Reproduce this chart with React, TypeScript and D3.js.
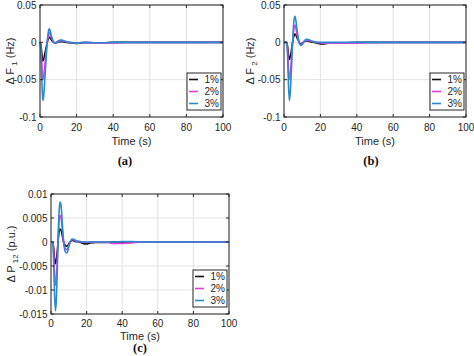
import React from "react";
import * as d3 from "d3";

// ---------- data ----------
const seriesNames = ["1%", "2%", "3%"];
const seriesColors = ["#111111", "#e838e8", "#2a8ad0"];

const timeA = [0, 0.5, 1, 1.5, 2, 2.5, 3, 3.5, 4, 4.5, 5, 5.5, 6, 7, 8, 9, 10, 11, 12, 13, 14, 16, 18, 20, 22, 25, 30, 35, 40, 45, 50, 55, 60, 100];
const dF1_1 = [0, -0.003, -0.015, -0.025, -0.023, -0.017, -0.011, -0.005, 0, 0.004, 0.007, 0.006, 0.004, 0.001, -0.001, -0.0005, 0.0005, 0.001, 0.001, 0.0005, 0, -0.0005, -0.001, -0.0015, -0.001, -0.0005, -0.0005, -0.0005, 0, 0, 0, 0, 0, 0];
const dF1_2 = [0, -0.006, -0.03, -0.05, -0.046, -0.035, -0.022, -0.009, 0.001, 0.008, 0.013, 0.012, 0.008, 0.002, -0.001, 0, 0.0015, 0.002, 0.002, 0.0015, 0.001, 0, -0.0005, -0.001, -0.0005, 0, -0.0008, -0.001, -0.0008, -0.0005, 0, 0, 0, 0];
const dF1_3 = [0, -0.01, -0.05, -0.078, -0.072, -0.055, -0.035, -0.015, 0.002, 0.013, 0.018, 0.016, 0.011, 0.003, -0.001, 0, 0.002, 0.003, 0.003, 0.002, 0.001, 0, -0.0005, -0.001, -0.0005, 0, -0.0005, -0.0005, 0, 0, 0, 0, 0, 0];

const timeB = [0, 1, 1.5, 2, 2.5, 3, 3.5, 4, 4.5, 5, 5.5, 6, 6.5, 7, 8, 9, 10, 11, 12, 13, 14, 16, 18, 20, 22, 25, 30, 35, 40, 45, 50, 55, 60, 100];
const dF2_1 = [0, 0, 0, -0.006, -0.018, -0.023, -0.019, -0.012, -0.003, 0.004, 0.009, 0.011, 0.01, 0.007, 0.002, -0.002, -0.001, 0.001, 0.002, 0.002, 0.001, 0, -0.001, -0.002, -0.002, -0.001, -0.001, -0.0005, 0, 0, 0, 0, 0, 0];
const dF2_2 = [0, 0, 0, -0.012, -0.038, -0.05, -0.042, -0.026, -0.008, 0.008, 0.019, 0.023, 0.019, 0.013, 0.002, -0.003, -0.002, 0.001, 0.003, 0.003, 0.002, 0.001, 0, -0.0005, -0.001, -0.001, -0.001, -0.001, -0.001, -0.0005, -0.0005, 0, 0, 0];
const dF2_3 = [0, 0, 0, -0.02, -0.06, -0.078, -0.065, -0.04, -0.012, 0.012, 0.03, 0.035, 0.03, 0.02, 0.004, -0.004, -0.003, 0.001, 0.004, 0.004, 0.003, 0.001, 0, 0, 0, 0, 0, 0, 0, 0, 0, 0, 0, 0];

const timeC = [0, 1, 1.5, 2, 2.5, 3, 3.5, 4, 4.5, 5, 5.5, 6, 6.5, 7, 8, 9, 10, 11, 12, 13, 14, 16, 18, 20, 22, 25, 30, 35, 40, 45, 50, 55, 60, 100];
const dP12_1 = [0, 0, -0.0012, -0.0035, -0.0045, -0.0038, -0.002, 0.0002, 0.002, 0.0027, 0.0026, 0.002, 0.001, 0.0001, -0.0007, -0.0009, -0.0004, 0.0001, 0.0003, 0.0002, 0.0001, 0, -0.0003, -0.0004, -0.0002, -0.0001, -0.0001, 0, 0, 0, 0, 0, 0, 0];
const dP12_2 = [0, 0, -0.0025, -0.007, -0.009, -0.0075, -0.004, 0.0005, 0.004, 0.0055, 0.0053, 0.004, 0.002, 0.0003, -0.0013, -0.0016, -0.0007, 0.0002, 0.0005, 0.0004, 0.0002, 0.0001, 0, -0.0001, 0, 0, 0, -0.0003, -0.0003, -0.0002, 0, 0, 0, 0];
const dP12_3 = [0, 0, -0.004, -0.011, -0.0143, -0.012, -0.006, 0.001, 0.006, 0.0083, 0.008, 0.006, 0.003, 0.0005, -0.002, -0.0023, -0.001, 0.0002, 0.0006, 0.0005, 0.0003, 0.0001, 0, 0, 0, 0, 0, 0, 0.0001, 0.0001, 0, 0, 0, 0];

const xTicks = [0, 20, 40, 60, 80, 100];
const yTicksF = [-0.1, -0.05, 0, 0.05];
const yTickLabelsF = ["-0.1", "-0.05", "0", "0.05"];
const yTicksP = [-0.015, -0.01, -0.005, 0, 0.005, 0.01];
const yTickLabelsP = ["-0.015", "-0.01", "-0.005", "0", "0.005", "0.01"];

// ---------- layout ----------
type Panel = {
  left: number; right: number; top: number; bottom: number;
  yDomain: [number, number]; yTicks: number[]; yLabels: string[];
  time: number[]; series: number[][];
  labelMain: string; labelSub: string; labelUnit: string; labelX: number;
  tag: string; tagX: number; tagY: number;
  xLabY: number; timeY: number;
};

const panels: Panel[] = [
  { left: 40, right: 223, top: 5, bottom: 117, yDomain: [-0.1, 0.05], yTicks: yTicksF, yLabels: yTickLabelsF,
    time: timeA, series: [dF1_1, dF1_2, dF1_3], labelMain: "Δ F", labelSub: "1", labelUnit: " (Hz)", labelX: 14,
    tag: "(a)", tagX: 125, tagY: 165, xLabY: 131, timeY: 145 },
  { left: 284, right: 466, top: 5, bottom: 117, yDomain: [-0.1, 0.05], yTicks: yTicksF, yLabels: yTickLabelsF,
    time: timeB, series: [dF2_1, dF2_2, dF2_3], labelMain: "Δ F", labelSub: "2", labelUnit: " (Hz)", labelX: 254,
    tag: "(b)", tagX: 371, tagY: 165, xLabY: 131, timeY: 145 },
  { left: 51, right: 229, top: 194, bottom: 314, yDomain: [-0.015, 0.01], yTicks: yTicksP, yLabels: yTickLabelsP,
    time: timeC, series: [dP12_1, dP12_2, dP12_3], labelMain: "Δ P", labelSub: "12", labelUnit: " (p.u.)", labelX: 15,
    tag: "(c)", tagX: 140, tagY: 352, xLabY: 327, timeY: 340 },
];

const font = "'Liberation Sans', Arial, Helvetica, sans-serif";

function PanelView({ p }: { p: Panel }) {
  const x = d3.scaleLinear().domain([0, 100]).range([p.left, p.right]);
  const y = d3.scaleLinear().domain(p.yDomain).range([p.bottom, p.top]);
  const line = d3.line<[number, number]>()
    .x((d) => x(d[0]))
    .y((d) => y(d[1]))
    .curve(d3.curveMonotoneX);
  const tickLen = 3;
  const midY = (p.top + p.bottom) / 2;
  const lgW = 34, lgH = 37;
  const lgX = p.right - 2 - lgW;
  const lgY = p.bottom - 7 - lgH;
  return (
    <g>
      {xTicks.map((t) => (
        <line key={"gx" + t} x1={x(t)} x2={x(t)} y1={p.top} y2={p.bottom} stroke="#e2e2e2" strokeWidth={1} />
      ))}
      {p.yTicks.map((t) => (
        <line key={"gy" + t} x1={p.left} x2={p.right} y1={y(t)} y2={y(t)} stroke="#e2e2e2" strokeWidth={1} />
      ))}
      {p.series.map((s, i) => (
        <path key={"s" + i} d={line(p.time.map((t, k) => [t, s[k]] as [number, number])) || ""}
          fill="none" stroke={seriesColors[i]} strokeWidth={1.6} strokeLinejoin="round" />
      ))}
      <rect x={p.left} y={p.top} width={p.right - p.left} height={p.bottom - p.top} fill="none" stroke="#262626" strokeWidth={1} />
      {xTicks.map((t) => (
        <g key={"tx" + t}>
          <line x1={x(t)} x2={x(t)} y1={p.bottom} y2={p.bottom - tickLen} stroke="#262626" />
          <line x1={x(t)} x2={x(t)} y1={p.top} y2={p.top + tickLen} stroke="#262626" />
          <text x={x(t)} y={p.xLabY} textAnchor="middle" fontSize={10} fontFamily={font} fill="#262626">{t}</text>
        </g>
      ))}
      {p.yTicks.map((t, i) => (
        <g key={"ty" + t}>
          <line x1={p.left} x2={p.left + tickLen} y1={y(t)} y2={y(t)} stroke="#262626" />
          <line x1={p.right} x2={p.right - tickLen} y1={y(t)} y2={y(t)} stroke="#262626" />
          <text x={p.left - 3.5} y={y(t) + 3.5} textAnchor="end" fontSize={10} fontFamily={font} fill="#262626">{p.yLabels[i]}</text>
        </g>
      ))}
      <text x={(p.left + p.right) / 2} y={p.timeY} textAnchor="middle" fontSize={11} fontFamily={font} fill="#262626">Time (s)</text>
      <text transform={`translate(${p.labelX},${midY}) rotate(-90)`} textAnchor="middle" fontSize={11} fontFamily={font} fill="#262626">
        {p.labelMain}
        <tspan dy={3} fontSize={8}>{" " + p.labelSub}</tspan>
        <tspan dy={-3}>{p.labelUnit}</tspan>
      </text>
      <rect x={lgX} y={lgY} width={lgW} height={lgH} fill="#ffffff" stroke="#262626" strokeWidth={1} />
      {seriesNames.map((n, i) => {
        const yy = lgY + 6.5 + 12 * i;
        return (
          <g key={"lg" + i}>
            <line x1={lgX + 2} x2={lgX + 11} y1={yy} y2={yy} stroke={seriesColors[i]} strokeWidth={1.6} />
            <text x={lgX + lgW - 2} y={yy + 3.5} textAnchor="end" fontSize={10} fontFamily={font} fill="#262626">{n}</text>
          </g>
        );
      })}
      <text x={p.tagX} y={p.tagY} textAnchor="middle" fontSize={12.5} fontWeight="bold" fontFamily="'Liberation Serif', 'Times New Roman', serif" fill="#111">{p.tag}</text>
    </g>
  );
}

export default function App() {
  return (
    <svg width={474} height={356} style={{ position: "absolute", left: 0, top: 0, background: "#ffffff" }}>
      <rect x={0} y={0} width={474} height={356} fill="#ffffff" />
      {panels.map((p, i) => <PanelView key={i} p={p} />)}
    </svg>
  );
}
